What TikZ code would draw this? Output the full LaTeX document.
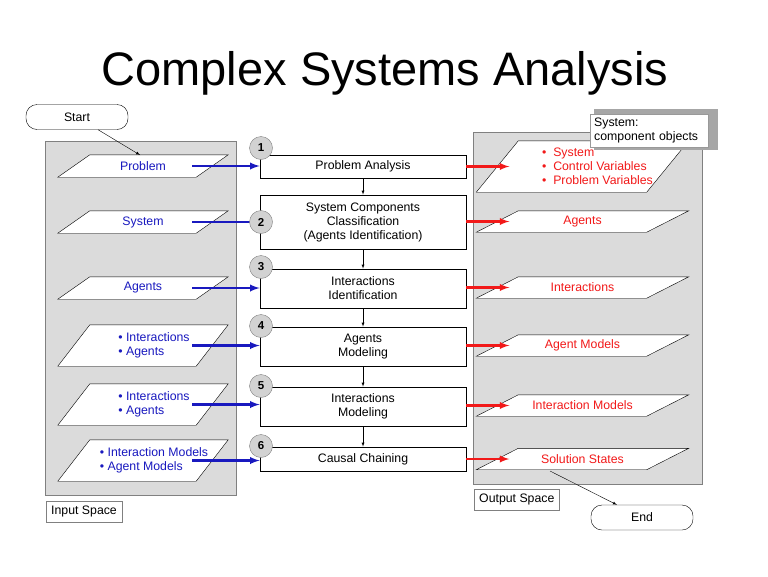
\documentclass[tikz,border=0pt]{standalone}
\usepackage{fontspec}
\setmainfont{Liberation Sans}
\usetikzlibrary{arrows,positioning}
\definecolor{panelgray}{gray}{0.86}
\definecolor{inblue}{rgb}{0.1,0.1,0.75}
\definecolor{outred}{rgb}{0.95,0.1,0.1}
\newcommand{\slantbox}[2]{% name, slant
  \draw[fill=white] ([xshift=-#2]#1.south west) -- ([xshift=#2]#1.north west)
  -- ([xshift=#2]#1.north east) -- ([xshift=-#2]#1.south east) -- cycle;}
\begin{document}
\begin{tikzpicture}[%
x=1pt,y=-1pt,
font=\fontsize{12.3}{14}\selectfont,
phase/.style={draw,thick,fill=white,minimum width=206pt,align=center,inner sep=1pt},
num/.style={circle,draw=gray,fill=gray!35,minimum size=23pt,inner sep=0pt,font=\bfseries\fontsize{11.5}{13}\selectfont},
inp/.style={text=inblue,minimum width=138pt,inner sep=1pt,align=left},
outp/.style={text=outred,minimum width=170pt,inner sep=1pt,align=left},
inarrow/.style={->,>=latex,line width=2.2pt,inblue},
outarrow/.style={->,>=latex,line width=2.2pt,outred},
term/.style={draw,rounded corners=11pt,fill=white,minimum width=102pt,minimum height=25pt},
spacebox/.style={draw=gray,fill=white,inner sep=5pt,anchor=north west},
]
\useasboundingbox (0,0) rectangle (768,576);

\node (title) at (385,73) {\fontsize{47}{52}\selectfont Complex Systems Analysis};

%Panels
\draw[gray,fill=panelgray] (45,141) rectangle (236,495);
\draw[gray,fill=panelgray] (473,132) rectangle (702,484);
\node[spacebox] (inspace) at (46,501) {Input Space};
\node[spacebox] (outspace) at (474,489) {Output Space};

%Schritte
\node[phase,minimum height=23pt] (s1) at (363,166.5) {Problem Analysis};
\node[phase,minimum height=54pt] (s2) at (363,222) {System Components\\Classification\\(Agents Identification)};
\node[phase,minimum height=39pt] (s3) at (363,288.5) {Interactions\\Identification};
\node[phase,minimum height=39pt] (s4) at (363,346.5) {Agents\\Modeling};
\node[phase,minimum height=39pt] (s5) at (363,406.5) {Interactions\\Modeling};
\node[phase,minimum height=24pt] (s6) at (363,459) {Causal Chaining};
\foreach \a/\b in {s1/s2,s2/s3,s3/s4,s4/s5,s5/s6}
  \draw[->,>=latex] (\a) -- (\b);

%Eingaben
\node[inp,minimum height=22pt] (i1) at (143,166) {};
\node[inp,minimum height=22pt] (i2) at (143,222) {};
\node[inp,minimum height=22pt] (i3) at (143,288) {};
\node[inp,minimum height=41pt] (i4) at (143,345.5) {};
\node[inp,minimum height=41pt] (i5) at (143,404.5) {};
\node[inp,minimum height=41pt] (i6) at (143,460.5) {};
\foreach \n in {i1,i2,i3,i4,i5,i6}
  \slantbox{\n}{16pt};
\node[inp,align=center] at (i1) {Problem};
\node[inp,align=center] at (i2) {System};
\node[inp,align=center] at (i3) {Agents};
\node[inp] at (i4) {\hspace*{22pt}• Interactions\\\hspace*{22pt}• Agents};
\node[inp] at (i5) {\hspace*{22pt}• Interactions\\\hspace*{22pt}• Agents};
\node[inp] at (i6) {\hspace*{22pt}• Interaction Models\\\hspace*{22pt}• Agent Models};

%Ausgaben
\node[outp,minimum height=51pt] (o1) at (582.5,166.5) {};
\node[outp,minimum height=21pt] (o2) at (582.5,221.5) {};
\node[outp,minimum height=21pt] (o3) at (582.5,287.5) {};
\node[outp,minimum height=21pt] (o4) at (582.5,345.5) {};
\node[outp,minimum height=21pt] (o5) at (582.5,405.5) {};
\node[outp,minimum height=21pt] (o6) at (582.5,459) {};
\foreach \n in {o1,o2,o3,o4,o5,o6}
  \slantbox{\n}{21pt};
\node[outp] at (o1) {\hspace*{30pt}• \ System\\\hspace*{30pt}• \ Control Variables\\\hspace*{30pt}• \ Problem Variables};
\node[outp,align=center] at (o2) {Agents};
\node[outp,align=center] at (o3) {Interactions};
\node[outp,align=center] at (o4) {Agent Models};
\node[outp,align=center] at (o5) {Interaction Models};
\node[outp,align=center] at (o6) {Solution States};

%Pfeile
\foreach \i in {1,...,6}{
  \draw[inarrow] ([xshift=-20pt]i\i.east) -- (s\i.west |- i\i.east);
  \draw[outarrow] (s\i.east |- o\i.west) -- ([xshift=12pt]o\i.west);
}

%Nummern
\node[num] (n1) at (261,148) {1};
\node[num] (n2) at (261,222) {2};
\node[num] (n3) at (261,267) {3};
\node[num] (n4) at (261,326) {4};
\node[num] (n5) at (261,386) {5};
\node[num] (n6) at (261,446) {6};

%Start, Ende
\node[term] (start) at (77,117) {Start};
\node[term] (end) at (642,517.5) {End};
\coordinate (pin) at (140,155);
\coordinate (sout) at (550,471);
\draw[->,>=latex] (start) -- (pin);
\draw[->,>=latex] (sout) -- (end);

%Hinweis
\fill[gray!70] (594,109) rectangle (718,150);
\node[spacebox,draw=gray!80,align=left,inner sep=4pt,text width=110pt] (note) at (590,114) {System:\\component objects};
\end{tikzpicture}
\end{document}
